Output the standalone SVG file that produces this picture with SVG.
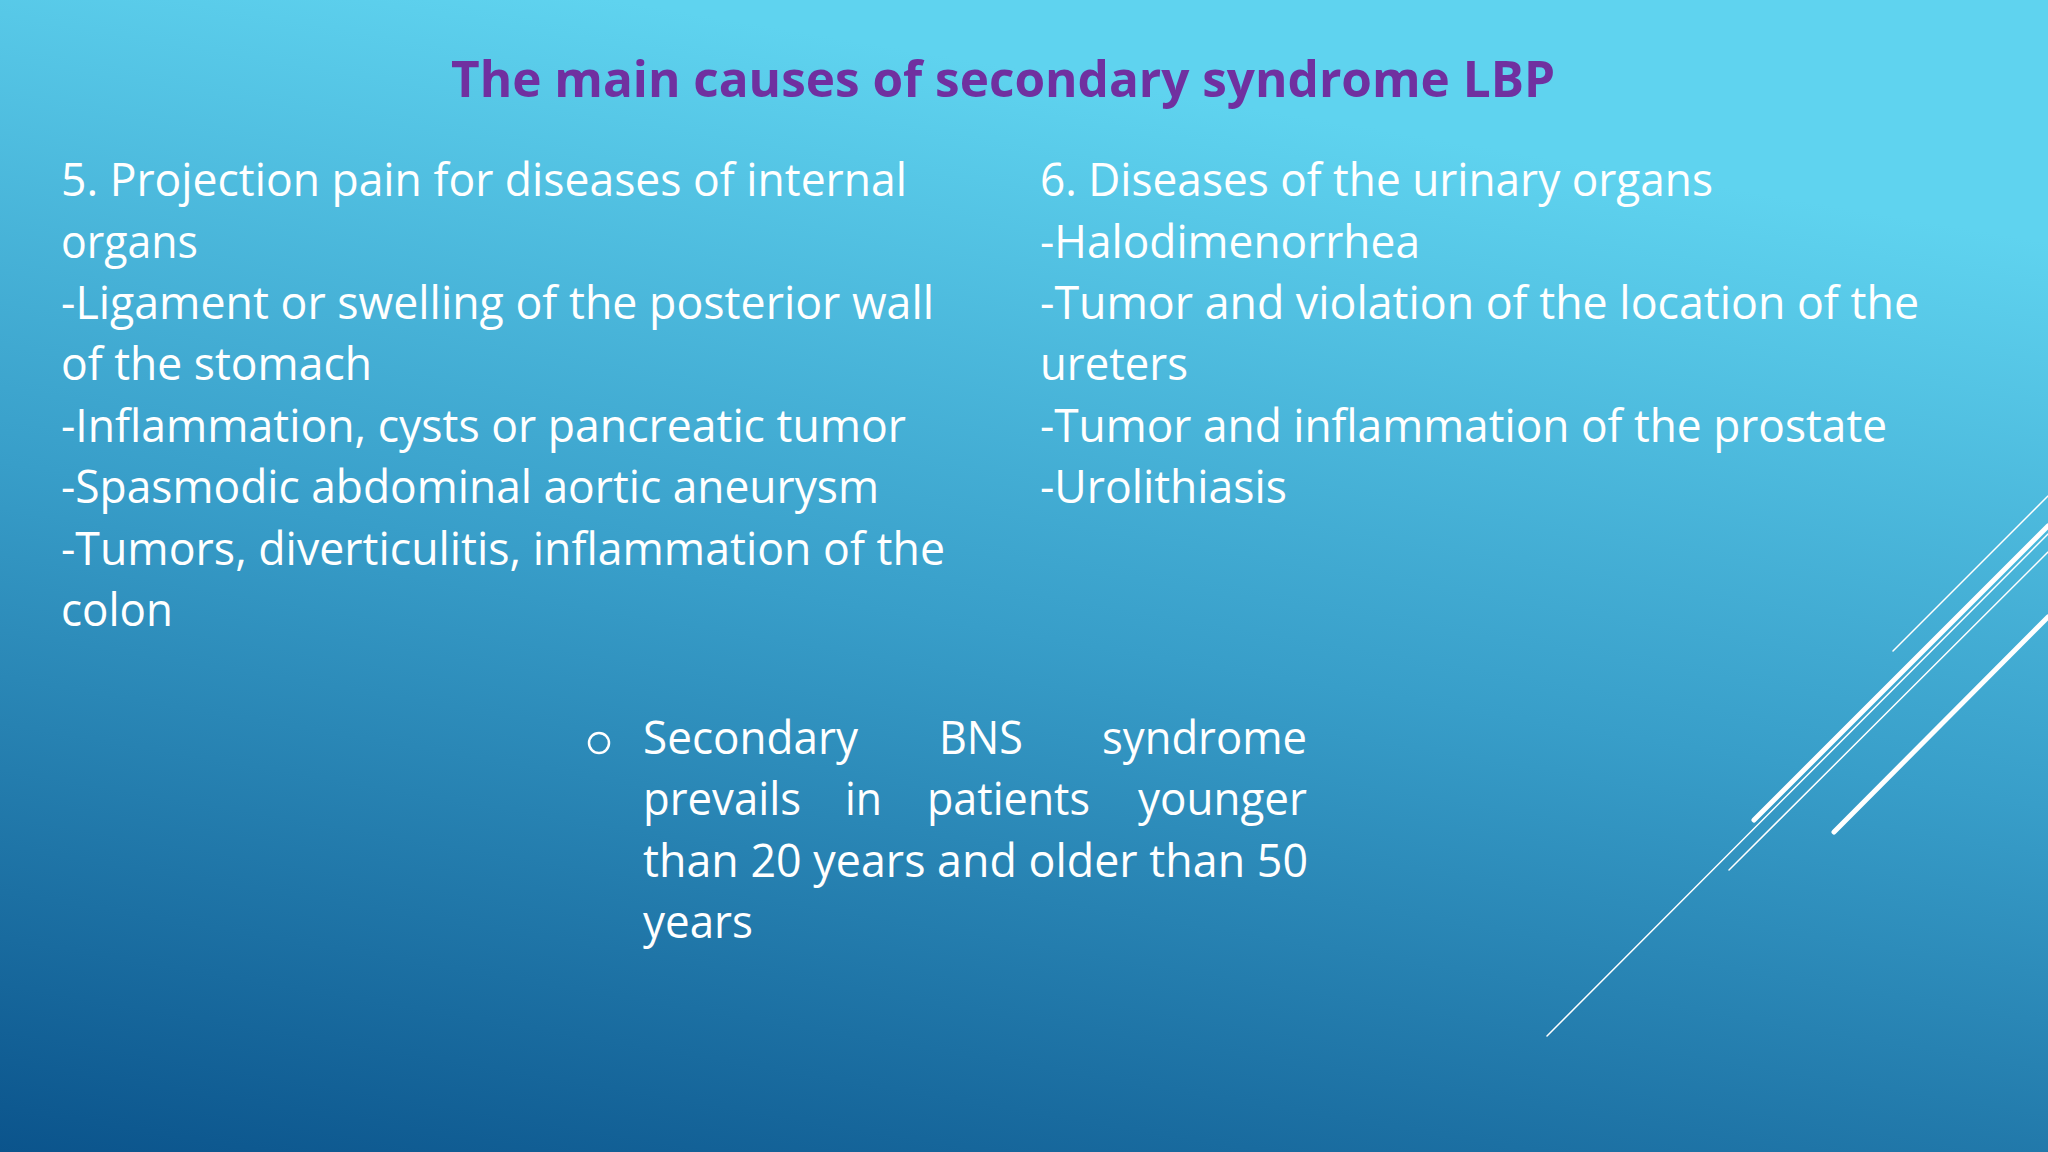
<svg xmlns="http://www.w3.org/2000/svg" width="2048" height="1152" viewBox="0 0 2048 1152">
<defs>
<linearGradient id="bg" x1="0.3" y1="0" x2="0" y2="1">
<stop offset="0" stop-color="#5fd3ef"/>
<stop offset="0.45" stop-color="#389ec9"/>
<stop offset="1" stop-color="#0b548c"/>
</linearGradient>
<style>
.t{font-family:"Open Sans","Noto Sans",sans-serif;font-size:45px;fill:#ffffff}
.h{font-family:"Open Sans","Noto Sans",sans-serif;font-size:50px;font-weight:bold;fill:#7030a0}
.l{stroke:#ffffff;stroke-linecap:round}
</style>
</defs>
<rect width="2048" height="1152" fill="url(#bg)"/>
<g id="deco">
<line class="l" x1="1893" y1="651" x2="2048" y2="496" stroke-width="1.5"/>
<line class="l" x1="1754" y1="820" x2="2048" y2="526" stroke-width="5"/>
<line class="l" x1="1547" y1="1036" x2="2048" y2="534" stroke-width="1.5"/>
<line class="l" x1="1729" y1="870" x2="2048" y2="552" stroke-width="1.5"/>
<line class="l" x1="1834" y1="832" x2="2048" y2="617" stroke-width="5"/>
</g>
<g id="title"><text class="h" x="451" y="97" textLength="1104" lengthAdjust="spacingAndGlyphs">The main causes of secondary syndrome LBP</text></g>
<g id="left">
<text class="t" x="61" y="196" textLength="846" lengthAdjust="spacingAndGlyphs">5. Projection pain for diseases of internal</text>
<text class="t" x="61" y="258" textLength="137" lengthAdjust="spacingAndGlyphs">organs</text>
<text class="t" x="61" y="319" textLength="873" lengthAdjust="spacingAndGlyphs">-Ligament or swelling of the posterior wall</text>
<text class="t" x="61" y="380" textLength="311" lengthAdjust="spacingAndGlyphs">of the stomach</text>
<text class="t" x="61" y="442" textLength="845" lengthAdjust="spacingAndGlyphs">-Inflammation, cysts or pancreatic tumor</text>
<text class="t" x="61" y="503" textLength="818" lengthAdjust="spacingAndGlyphs">-Spasmodic abdominal aortic aneurysm</text>
<text class="t" x="61" y="565" textLength="884" lengthAdjust="spacingAndGlyphs">-Tumors, diverticulitis, inflammation of the</text>
<text class="t" x="61" y="626" textLength="112" lengthAdjust="spacingAndGlyphs">colon</text>
</g>
<g id="right">
<text class="t" x="1040" y="196" textLength="673" lengthAdjust="spacingAndGlyphs">6. Diseases of the urinary organs</text>
<text class="t" x="1040" y="258" textLength="380" lengthAdjust="spacingAndGlyphs">-Halodimenorrhea</text>
<text class="t" x="1040" y="319" textLength="879" lengthAdjust="spacingAndGlyphs">-Tumor and violation of the location of the</text>
<text class="t" x="1040" y="380" textLength="148" lengthAdjust="spacingAndGlyphs">ureters</text>
<text class="t" x="1040" y="442" textLength="847" lengthAdjust="spacingAndGlyphs">-Tumor and inflammation of the prostate</text>
<text class="t" x="1040" y="503" textLength="247" lengthAdjust="spacingAndGlyphs">-Urolithiasis</text>
</g>
<g id="bullet">
<circle cx="599" cy="743" r="10" fill="none" stroke="#ffffff" stroke-width="2.5"/>
<text class="t" x="643" y="754" textLength="215" lengthAdjust="spacingAndGlyphs">Secondary</text>
<text class="t" x="939" y="754" textLength="84" lengthAdjust="spacingAndGlyphs">BNS</text>
<text class="t" x="1102" y="754" textLength="205" lengthAdjust="spacingAndGlyphs">syndrome</text>
<text class="t" x="643" y="815" textLength="158" lengthAdjust="spacingAndGlyphs">prevails</text>
<text class="t" x="845" y="815" textLength="37" lengthAdjust="spacingAndGlyphs">in</text>
<text class="t" x="927" y="815" textLength="163" lengthAdjust="spacingAndGlyphs">patients</text>
<text class="t" x="1138" y="815" textLength="169" lengthAdjust="spacingAndGlyphs">younger</text>
<text class="t" x="643" y="877" textLength="665" lengthAdjust="spacingAndGlyphs">than 20 years and older than 50</text>
<text class="t" x="643" y="938" textLength="110" lengthAdjust="spacingAndGlyphs">years</text>
</g>
</svg>
